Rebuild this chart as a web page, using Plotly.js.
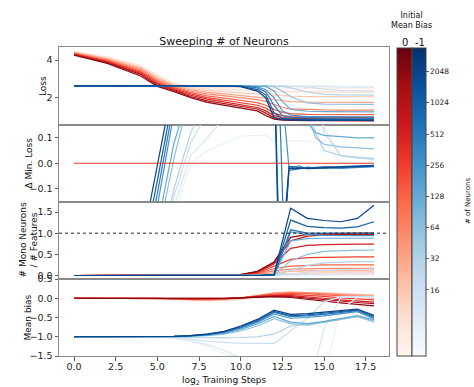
<!DOCTYPE html>
<html><head><meta charset="utf-8">
<script src="https://cdn.plot.ly/plotly-3.0.1.min.js"></script>
<style>html,body{margin:0;padding:0;background:#fff}</style>
</head><body><div id="chart" style="width:474px;height:387px"></div>
<script>
// ---------- data ----------
const neurons = [6, 10, 16, 32, 64, 128, 256, 512, 1024, 2048];
const colorbarTicks = [16, 32, 64, 128, 256, 512, 1024, 2048];
const xTicks = [0, 2.5, 5, 7.5, 10, 12.5, 15, 17.5];

const lossSteps = [0,2,4,5,6,7,8,9,10,11,11.5,12,12.5,13,14,15,16,18];
const lossRed = [
 [4.45,4.17,3.72,3.22,2.78,2.62,2.55,2.53,2.52,2.52,2.51,2.51,2.51,2.5,2.5,2.5,2.5,2.5],
 [4.43,4.13,3.66,3.15,2.73,2.55,2.47,2.43,2.4,2.37,2.35,2.34,2.33,2.32,2.31,2.3,2.3,2.3],
 [4.41,4.09,3.6,3.08,2.68,2.48,2.38,2.32,2.27,2.22,2.18,2.13,2.1,2.08,2.06,2.05,2.05,2.05],
 [4.39,4.05,3.54,3.01,2.63,2.41,2.29,2.2,2.13,2.05,1.98,1.9,1.83,1.79,1.76,1.75,1.75,1.75],
 [4.37,4.01,3.48,2.94,2.58,2.34,2.2,2.09,2.0,1.9,1.8,1.62,1.48,1.41,1.36,1.35,1.34,1.34],
 [4.34,3.97,3.42,2.87,2.53,2.27,2.1,1.98,1.86,1.74,1.6,1.38,1.22,1.15,1.11,1.1,1.1,1.1],
 [4.32,3.93,3.36,2.8,2.48,2.2,2.0,1.87,1.73,1.6,1.45,1.18,1.05,1.0,0.97,0.96,0.96,0.96],
 [4.3,3.89,3.3,2.73,2.43,2.13,1.92,1.77,1.62,1.48,1.3,1.05,0.94,0.91,0.89,0.88,0.88,0.88],
 [4.28,3.85,3.24,2.66,2.38,2.06,1.83,1.68,1.52,1.4,1.18,0.93,0.86,0.84,0.83,0.82,0.82,0.82],
 [4.25,3.82,3.15,2.6,2.32,2.0,1.75,1.6,1.42,1.3,1.05,0.86,0.81,0.79,0.78,0.78,0.78,0.77]
];
const lossBlue = [
 [2.63,2.63,2.63,2.63,2.63,2.63,2.63,2.63,2.63,2.63,2.63,2.63,2.63,2.63,2.63,2.62,2.61,2.59],
 [2.63,2.63,2.63,2.63,2.63,2.63,2.63,2.63,2.63,2.63,2.63,2.63,2.63,2.63,2.62,2.6,2.56,2.54],
 [2.63,2.63,2.63,2.63,2.63,2.63,2.63,2.63,2.63,2.63,2.63,2.63,2.63,2.62,2.56,2.45,2.39,2.36],
 [2.63,2.63,2.63,2.63,2.63,2.63,2.63,2.63,2.63,2.63,2.63,2.63,2.6,2.52,2.3,2.18,2.15,2.14],
 [2.63,2.63,2.63,2.63,2.63,2.63,2.63,2.63,2.63,2.63,2.63,2.58,2.35,2.05,1.72,1.66,1.65,1.64],
 [2.63,2.63,2.63,2.63,2.63,2.63,2.63,2.63,2.63,2.63,2.6,2.35,1.8,1.38,1.28,1.26,1.25,1.25],
 [2.63,2.63,2.63,2.63,2.63,2.63,2.63,2.63,2.63,2.58,2.42,2.0,1.3,1.07,1.0,0.99,0.98,0.98],
 [2.63,2.63,2.63,2.63,2.63,2.63,2.63,2.63,2.62,2.52,2.3,1.6,1.05,0.95,0.92,0.91,0.91,0.9],
 [2.63,2.63,2.63,2.63,2.63,2.63,2.63,2.63,2.61,2.43,2.15,1.2,0.9,0.86,0.84,0.84,0.83,0.83],
 [2.63,2.63,2.63,2.63,2.63,2.63,2.63,2.62,2.59,2.35,2.0,0.95,0.84,0.82,0.8,0.8,0.79,0.79]
];

const deltaSteps = [0,4,5,6,7,8,9,10,11,11.5,12,12.3,12.6,12.9,13.5,14,14.5,15,16,17,18];
const deltaRedSteps = [0, 18];
const deltaRed = [0, 0];
const deltaBlue = [
 [-1.7,-0.8,-0.55,-0.2,0.0,0.05,0.08,0.107,0.11,0.11,0.087,0.087,0.087,0.087,0.087,0.087,0.087,0.087,0.0,0.0,0.0],
 [-1.7,-0.75,-0.5,-0.17,0.03,0.1,0.18,0.22,0.25,0.26,0.27,0.27,0.27,0.27,0.27,0.26,0.25,0.14,0.03,0.025,0.02],
 [-1.7,-0.7,-0.45,-0.13,0.08,0.2,0.28,0.35,0.42,0.45,0.48,0.5,0.5,0.48,0.45,0.42,0.35,0.12,0.03,0.02,0.015],
 [-1.7,-0.65,-0.4,-0.1,0.12,0.25,0.35,0.42,0.5,0.55,0.6,0.6,0.6,0.55,0.45,0.3,0.12,0.05,0.03,0.022,0.017],
 [-1.7,-0.6,-0.3,0.02,0.28,0.45,0.55,0.62,0.7,0.75,0.75,0.7,0.65,0.55,0.4,0.2,0.1,0.075,0.065,0.06,0.057],
 [-1.7,-0.55,-0.25,0.08,0.35,0.5,0.6,0.68,0.76,0.82,0.8,0.7,0.6,0.5,0.35,0.16,0.12,0.11,0.105,0.1,0.1],
 [-1.7,-0.5,-0.17,0.2,0.45,0.6,0.7,0.76,0.84,0.9,0.7,0.5,0.2,-0.02,-0.01,-0.022,-0.019,-0.016,-0.02,-0.016,-0.013],
 [-1.7,-0.45,-0.12,0.24,0.5,0.65,0.72,0.78,0.86,0.9,0.6,0.3,-0.3,-0.028,-0.022,-0.015,-0.018,-0.02,-0.017,-0.014,-0.012],
 [-1.7,-0.4,-0.07,0.28,0.55,0.68,0.74,0.8,0.88,0.85,0.45,-0.3,-0.35,-0.012,-0.016,-0.02,-0.016,-0.014,-0.013,-0.011,-0.008],
 [-1.7,-0.35,-0.02,0.33,0.6,0.7,0.75,0.8,0.9,0.8,0.4,-0.4,-0.25,-0.02,-0.02,-0.018,-0.02,-0.017,-0.015,-0.012,-0.01]
];

const monoSteps = [0,6,8,9,10,11,12,13,14,15,16,17,18];
const monoRed = [
 [0,0,0,0,0,0,0.005,0.01,0.01,0.01,0.01,0.01,0.01],
 [0,0,0,0,0,0.005,0.015,0.025,0.03,0.03,0.03,0.03,0.03],
 [0,0,0,0,0,0.015,0.04,0.05,0.055,0.06,0.06,0.06,0.06],
 [0,0,0,0,0.005,0.03,0.07,0.1,0.11,0.11,0.11,0.11,0.11],
 [0,0,0,0,0.01,0.04,0.11,0.15,0.16,0.17,0.17,0.17,0.17],
 [0,0.005,0,0,0.01,0.05,0.16,0.22,0.24,0.25,0.25,0.25,0.25],
 [0,0.005,0,0,0.015,0.06,0.22,0.38,0.42,0.43,0.44,0.44,0.44],
 [0,0.01,0,0.005,0.02,0.08,0.27,0.64,0.71,0.73,0.74,0.74,0.74],
 [0,0.01,0,0.005,0.02,0.09,0.3,0.82,0.93,0.96,0.97,0.97,0.97],
 [0,0.01,0,0.005,0.02,0.1,0.32,0.9,0.97,0.99,1.0,1.0,1.0]
];
const monoBlue = [
 [0,0,0,0,0,0,0,0,0,0,0,0,0],
 [0,0,0,0,0,0,0,0.01,0.02,0.04,0.05,0.05,0.05],
 [0,0,0,0,0,0,0,0.03,0.08,0.12,0.14,0.15,0.15],
 [0,0,0,0,0,0,0,0.12,0.24,0.3,0.32,0.33,0.33],
 [0,0,0,0,0,0,0,0.35,0.5,0.57,0.59,0.6,0.6],
 [0,0,0,0,0,0,0.01,0.82,0.87,0.88,0.88,0.88,0.88],
 [0,0,0,0,0,0,0.01,1.03,0.97,0.95,0.94,0.94,0.94],
 [0,0,0,0,0,0,0.01,1.08,1.0,1.0,1.0,1.0,1.0],
 [0,0,0,0,0,0,0.02,1.31,1.16,1.13,1.12,1.15,1.27],
 [0,0,0,0,0,0,0.02,1.59,1.35,1.3,1.27,1.35,1.66]
];

const biasSteps = [0,5,6,7,8,9,10,11,12,13,14,15,16,17,18];
const biasRed = [
 [0,0,-0.03,-0.06,-0.07,-0.06,-0.04,0.01,0.06,0.08,0.09,0.09,0.09,0.08,0.08],
 [0,0,-0.02,-0.05,-0.06,-0.05,-0.02,0.04,0.1,0.13,0.13,0.12,0.11,0.1,0.09],
 [0,0,-0.02,-0.04,-0.05,-0.04,-0.01,0.06,0.13,0.16,0.15,0.14,0.12,0.1,0.08],
 [0,0,-0.02,-0.04,-0.04,-0.03,0.0,0.07,0.14,0.16,0.15,0.13,0.11,0.09,0.07],
 [0,0,-0.02,-0.03,-0.04,-0.02,0.01,0.07,0.13,0.15,0.14,0.12,0.09,0.07,0.04],
 [0,0,-0.01,-0.03,-0.03,-0.02,0.01,0.06,0.11,0.13,0.12,0.09,0.06,0.03,0.01],
 [0,0,-0.01,-0.02,-0.02,-0.01,0.01,0.05,0.09,0.1,0.08,0.05,0.01,-0.02,-0.04],
 [0,0,-0.01,-0.02,-0.02,-0.01,0.01,0.04,0.07,0.07,0.04,0,-0.04,-0.07,-0.1],
 [0,0,0,-0.01,-0.01,0,0.01,0.03,0.05,0.04,0,-0.04,-0.08,-0.11,-0.14],
 [0,0,0,-0.01,-0.01,0,0.01,0.03,0.04,0.02,-0.03,-0.08,-0.12,-0.16,-0.2]
];
const biasBlue = [
 [-1,-1,-1.04,-1.12,-1.25,-1.42,-1.62,-2.0,-2.4,-2.8,-3.0,-2.0,-0.3,0.02,0.03],
 [-1,-1,-1.03,-1.1,-1.2,-1.35,-1.55,-1.8,-2.0,-2.2,-2.5,-0.8,0.02,0.03,0.04],
 [-1,-1,-1.02,-1.06,-1.12,-1.15,-1.17,-1.17,-1.17,-0.85,-0.52,-0.1,0.04,0.05,0.05],
 [-1,-1,-1.01,-1.02,-1.03,-1.03,-1.02,-1.0,-0.93,-0.72,-0.68,-0.62,-0.55,-0.48,-0.62],
 [-1,-1,-1,-0.99,-0.97,-0.93,-0.85,-0.72,-0.53,-0.66,-0.7,-0.63,-0.55,-0.47,-0.6],
 [-1,-1,-1,-0.98,-0.96,-0.91,-0.81,-0.67,-0.47,-0.62,-0.66,-0.6,-0.52,-0.45,-0.56],
 [-1,-1,-1,-0.98,-0.95,-0.89,-0.78,-0.63,-0.41,-0.52,-0.5,-0.46,-0.4,-0.35,-0.53],
 [-1,-1,-0.99,-0.97,-0.94,-0.88,-0.76,-0.6,-0.37,-0.48,-0.46,-0.42,-0.37,-0.32,-0.5],
 [-1,-1,-0.99,-0.97,-0.93,-0.87,-0.74,-0.57,-0.34,-0.45,-0.43,-0.39,-0.34,-0.3,-0.47],
 [-1,-1,-0.99,-0.97,-0.93,-0.86,-0.72,-0.55,-0.31,-0.42,-0.4,-0.36,-0.32,-0.28,-0.44]
];

// ---------- style ----------
const REDS = ['#fff5f0','#fee0d2','#fcbba1','#fc9272','#fb6a4a','#ef3b2c','#cb181d','#a50f15','#67000d'];
const BLUES = ['#f7fbff','#deebf7','#c6dbef','#9ecae1','#6baed6','#4292c6','#2171b5','#08519c','#08306b'];
const CB_MIN = 1.88, CB_MAX = 11.76;
const FONT = 'DejaVu Sans, Liberation Sans, sans-serif';
const SPINE = '#8a8a8a';

function hex2rgb(h){return [parseInt(h.slice(1,3),16),parseInt(h.slice(3,5),16),parseInt(h.slice(5,7),16)];}
function cmap(stops, t){
  t = Math.max(0, Math.min(1, t));
  const n = stops.length - 1, p = t * n;
  const i = Math.min(Math.floor(p), n - 1), f = p - i;
  const a = hex2rgb(stops[i]), b = hex2rgb(stops[i+1]);
  const c = a.map((v,k)=>Math.round(v + (b[k]-v)*f));
  return 'rgb(' + c.join(',') + ')';
}
function scale(stops){ const n = stops.length-1; return stops.map((c,i)=>[i/n, c]); }
function tOf(N){ return (Math.log2(N) - CB_MIN) / (CB_MAX - CB_MIN); }

const traces = [];
function addSet(xs, rows, stops, xa, ya){
  rows.forEach((row, i) => {
    traces.push({type:'scatter', mode:'lines', x: xs, y: row, xaxis: xa, yaxis: ya,
      line:{color: cmap(stops, tOf(neurons[i])), width: 1.2}, hoverinfo:'skip', showlegend:false});
  });
}
// Loss
addSet(lossSteps, lossRed, REDS, 'x', 'y');
addSet(lossSteps, lossBlue, BLUES, 'x', 'y');
// Delta (bias 0 is the reference: a single red baseline)
addSet(deltaSteps, deltaBlue, BLUES, 'x2', 'y2');
traces.push({type:'scatter', mode:'lines', x: deltaRedSteps, y: deltaRed, xaxis:'x2', yaxis:'y2',
  line:{color: cmap(REDS, 0.64), width: 1.2}, hoverinfo:'skip', showlegend:false});
// Mono
addSet(monoSteps, monoRed, REDS, 'x3', 'y3');
addSet(monoSteps, monoBlue, BLUES, 'x3', 'y3');
// Bias
addSet(biasSteps, biasRed, REDS, 'x4', 'y4');
addSet(biasSteps, biasBlue, BLUES, 'x4', 'y4');

// colorbars
const L = 59, R = 389, T = 47, B = 356, W = R - L, H = B - T;
const px = v => (v - L) / W;
const py = v => (B - v) / H;
const cbCommon = {thickness: 15, thicknessmode:'pixels', len: 308/H, lenmode:'fraction',
  y: py(202), yanchor:'middle', xanchor:'left', xpad:0, ypad:0,
  outlinecolor:'#444', outlinewidth:1};
traces.push({type:'scatter', mode:'markers', x:[0,0], y:[-100,-100], xaxis:'x', yaxis:'y',
  hoverinfo:'skip', showlegend:false,
  marker:{size:1, color:[CB_MIN, CB_MAX], cmin:CB_MIN, cmax:CB_MAX, colorscale: scale(REDS), showscale:true,
    colorbar: Object.assign({}, cbCommon, {x: px(397), showticklabels:false, ticks:''})}});
traces.push({type:'scatter', mode:'markers', x:[0,0], y:[-100,-100], xaxis:'x', yaxis:'y',
  hoverinfo:'skip', showlegend:false,
  marker:{size:1, color:[CB_MIN, CB_MAX], cmin:CB_MIN, cmax:CB_MAX, colorscale: scale(BLUES), showscale:true,
    colorbar: Object.assign({}, cbCommon, {x: px(412), thickness:14,
      tickvals: colorbarTicks.map(v=>Math.log2(v)), ticktext: colorbarTicks.map(String),
      ticks:'outside', ticklen:2.5, tickwidth:0.8, tickcolor:'#333',
      tickfont:{family:FONT, size:7.5, color:'#222'}})}});

const XR = [-0.9, 18.9];
function xax(anchor, show){
  return {domain:[0,1], anchor: anchor, range: XR, matches: anchor==='y' ? undefined : 'x',
    showline:true, mirror:true, linecolor:SPINE, linewidth:1, showgrid:false, zeroline:false,
    ticks: show ? 'outside' : '', ticklen:3.5, tickcolor:'#333', tickwidth:0.8,
    tickvals: xTicks, tickformat:'.1f', showticklabels: show, ticklabelstandoff: -2,
    tickfont:{family:FONT, size:9.5, color:'#222'}};
}
function yax(domain, range, ticks, fmt){
  return {domain: domain, range: range, tickvals: ticks, tickformat: fmt,
    showline:true, mirror:true, linecolor:SPINE, linewidth:1, showgrid:false, zeroline:false,
    ticks:'outside', ticklen:3.5, tickcolor:'#333', tickwidth:0.8,
    tickfont:{family:FONT, size:9.5, color:'#222'}};
}

const ann = (text, x, y, size, angle) => ({text, x: px(x), y: py(y), xref:'paper', yref:'paper',
  showarrow:false, textangle: angle||0, xanchor:'center', yanchor:'middle',
  font:{family:FONT, size:size, color:'#111'}});

const layout = {
  width:474, height:387, paper_bgcolor:'#fff', plot_bgcolor:'#fff',
  margin:{l:L, r:474-R, t:T, b:387-B, pad:0},
  showlegend:false,
  title:{text:'Sweeping # of Neurons', x:0.5, xref:'paper', y:1-41/387, yanchor:'middle',
    font:{family:FONT, size:11, color:'#111'}},
  xaxis: xax('y', false), xaxis2: xax('y2', false), xaxis3: xax('y3', false), xaxis4: xax('y4', true),
  yaxis: yax([py(125),1], [0.55, 4.69], [2,4], 'd'),
  yaxis2: yax([py(202),py(125)], [-0.153, 0.151], [-0.1,0,0.1], '.1f'),
  yaxis3: yax([py(279),py(202)], [-0.083, 1.737], [0,0.5,1,1.5], '.1f'),
  yaxis4: yax([0,py(279)], [-1.5, 0.5], [-1.5,-1,-0.5,0,0.5], '.1f'),
  shapes:[{type:'line', xref:'x3 domain', yref:'y3', x0:0, x1:1, y0:1, y1:1,
    line:{color:'#222', width:1, dash:'dot'}}],
  annotations:[
    ann('Loss', 43, 86, 9, -90),
    ann('Δ Min. Loss', 28, 163.5, 9, -90),
    ann('# Mono Neurons<br>/ # Features', 29, 240.5, 9, -90),
    ann('Mean bias', 27, 317.5, 9, -90),
    ann('log<sub>2</sub> Training Steps', 224, 380, 9, 0),
    ann('Initial<br>Mean Bias', 412, 21, 8, 0),
    ann('0', 404.5, 42, 10, 0),
    ann('-1', 419.5, 42, 10, 0),
    ann('# of Neurons', 468, 201, 7, -90)
  ]
};

Plotly.newPlot('chart', traces, layout, {staticPlot:true, displayModeBar:false});
</script></body></html>
